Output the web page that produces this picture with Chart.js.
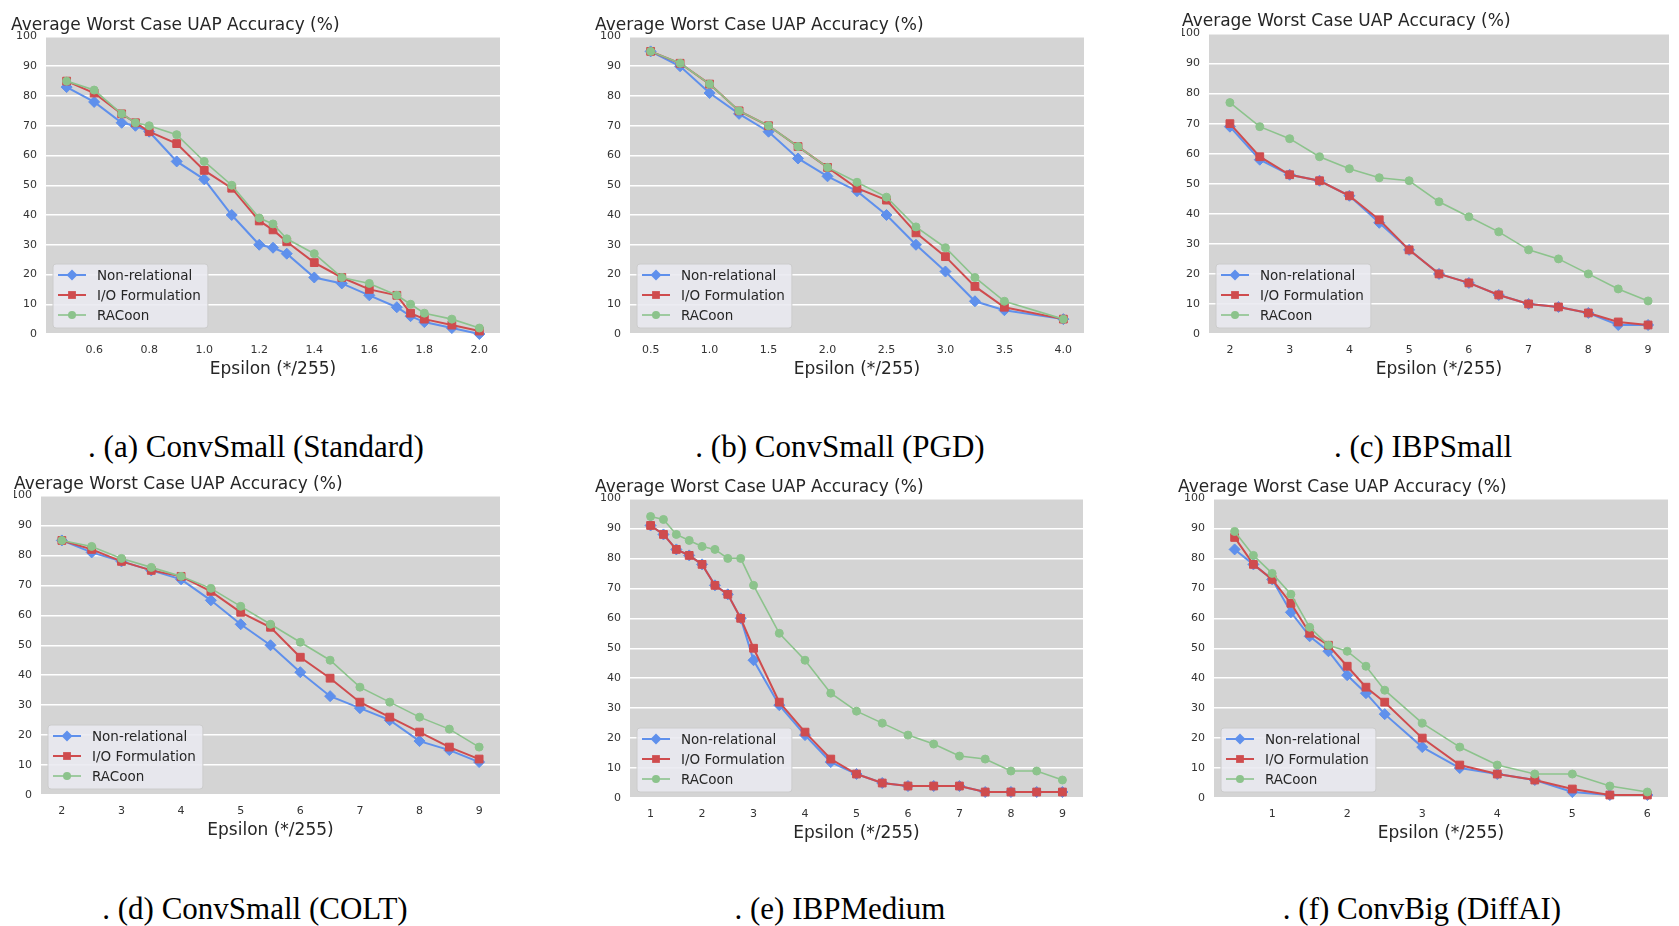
<!DOCTYPE html>
<html lang="en">
<head>
<meta charset="UTF-8">
<title>Average Worst Case UAP Accuracy</title>
<script src="https://cdn.jsdelivr.net/npm/chart.js"></script>
<style>
    body {
        margin: 0;
        background: #fff;
        width: 1679px;
        height: 926px;
        position: relative;
        overflow: hidden;
    }
    canvas { position: absolute; }
    .caption {
        position: absolute;
        font-family: "Liberation Serif", "Times New Roman", serif;
        font-size: 31px;
        color: #000;
        white-space: nowrap;
        transform: translate(-50%, -50%);
    }
</style>
</head>
<body>
<script>
// series names, one entry per line in every panel
const seriesNames = ['Non-relational', 'I/O Formulation', 'RACoon'];

// (a) ConvSmall (Standard)
const epsA = [0.5, 0.6, 0.7, 0.75, 0.8, 0.9, 1.0, 1.1, 1.2, 1.25, 1.3, 1.4, 1.5, 1.6, 1.7, 1.75, 1.8, 1.9, 2.0];
const nonRelA = [83, 78, 71, 70, 68, 58, 52, 40, 30, 29, 27, 19, 17, 13, 9, 6, 4, 2, 0];
const ioA = [85, 81, 74, 71, 68, 64, 55, 49, 38, 35, 31, 24, 19, 15, 13, 7, 5, 3, 1];
const racoonA = [85, 82, 74, 71, 70, 67, 58, 50, 39, 37, 32, 27, 19, 17, 13, 10, 7, 5, 2];
const ticksA = [0.6, 0.8, 1.0, 1.2, 1.4, 1.6, 1.8, 2.0];

// (b) ConvSmall (PGD)
const epsB = [0.5, 0.75, 1.0, 1.25, 1.5, 1.75, 2.0, 2.25, 2.5, 2.75, 3.0, 3.25, 3.5, 4.0];
const nonRelB = [95, 90, 81, 74, 68, 59, 53, 48, 40, 30, 21, 11, 8, 5];
const ioB = [95, 91, 84, 75, 70, 63, 56, 49, 45, 34, 26, 16, 9, 5];
const racoonB = [95, 91, 84, 75, 70, 63, 56, 51, 46, 36, 29, 19, 11, 5];
const ticksB = [0.5, 1.0, 1.5, 2.0, 2.5, 3.0, 3.5, 4.0];

// (c) IBPSmall
const epsC = [2, 2.5, 3, 3.5, 4, 4.5, 5, 5.5, 6, 6.5, 7, 7.5, 8, 8.5, 9];
const nonRelC = [69, 58, 53, 51, 46, 37, 28, 20, 17, 13, 10, 9, 7, 3, 3];
const ioC = [70, 59, 53, 51, 46, 38, 28, 20, 17, 13, 10, 9, 7, 4, 3];
const racoonC = [77, 69, 65, 59, 55, 52, 51, 44, 39, 34, 28, 25, 20, 15, 11];
const ticksC = [2, 3, 4, 5, 6, 7, 8, 9];

// (d) ConvSmall (COLT)
const epsD = [2, 2.5, 3, 3.5, 4, 4.5, 5, 5.5, 6, 6.5, 7, 7.5, 8, 8.5, 9];
const nonRelD = [85, 81, 78, 75, 72, 65, 57, 50, 41, 33, 29, 25, 18, 15, 11];
const ioD = [85, 82, 78, 75, 73, 68, 61, 56, 46, 39, 31, 26, 21, 16, 12];
const racoonD = [85, 83, 79, 76, 73, 69, 63, 57, 51, 45, 36, 31, 26, 22, 16];
const ticksD = [2, 3, 4, 5, 6, 7, 8, 9];

// (e) IBPMedium
const epsE = [1, 1.25, 1.5, 1.75, 2, 2.25, 2.5, 2.75, 3, 3.5, 4, 4.5, 5, 5.5, 6, 6.5, 7, 7.5, 8, 8.5, 9];
const nonRelE = [91, 88, 83, 81, 78, 71, 68, 60, 46, 31, 21, 12, 8, 5, 4, 4, 4, 2, 2, 2, 2];
const ioE = [91, 88, 83, 81, 78, 71, 68, 60, 50, 32, 22, 13, 8, 5, 4, 4, 4, 2, 2, 2, 2];
const racoonE = [94, 93, 88, 86, 84, 83, 80, 80, 71, 55, 46, 35, 29, 25, 21, 18, 14, 13, 9, 9, 6];
const ticksE = [1, 2, 3, 4, 5, 6, 7, 8, 9];

// (f) ConvBig (DiffAI)
const epsF = [0.5, 0.75, 1, 1.25, 1.5, 1.75, 2, 2.25, 2.5, 3, 3.5, 4, 4.5, 5, 5.5, 6];
const nonRelF = [83, 78, 73, 62, 54, 49, 41, 35, 28, 17, 10, 8, 6, 2, 1, 1];
const ioF = [87, 78, 73, 65, 55, 51, 44, 37, 32, 20, 11, 8, 6, 3, 1, 1];
const racoonF = [89, 81, 75, 68, 57, 51, 49, 44, 36, 25, 17, 11, 8, 8, 4, 2];
const ticksF = [1, 2, 3, 4, 5, 6];

const yTicks = [0, 10, 20, 30, 40, 50, 60, 70, 80, 90, 100];

// look of the three lines
const seriesColors = ['#5f90ec', '#cf4c4e', '#8cc38c'];
const seriesMarkers = ['rectRot', 'rect', 'circle'];
const markerSize = [5.5, 5.5, 4];
const lineWidths = [2, 2, 1.6];

const FONT = 'DejaVu Sans';
const TEXT = '#262626';
const TICK = '#333333';

// page placement of each panel (plot box L/R/T/B, title anchor, caption centre)
const panels = [
    {eps: epsA, s: [nonRelA, ioA, racoonA], ticks: ticksA, dec: 1, titleX: 11, titleY: 23, L: 46, R: 500, T: 36, B: 334,
     caption: '. (a) ConvSmall (Standard)', capX: 256, capY: 447},
    {eps: epsB, s: [nonRelB, ioB, racoonB], ticks: ticksB, dec: 1, titleX: 595, titleY: 23, L: 630, R: 1084, T: 36, B: 334,
     caption: '. (b) ConvSmall (PGD)', capX: 840, capY: 447},
    {eps: epsC, s: [nonRelC, ioC, racoonC], ticks: ticksC, dec: 0, titleX: 1182, titleY: 19, L: 1209, R: 1669, T: 33, B: 334,
     caption: '. (c) IBPSmall', capX: 1423, capY: 447},
    {eps: epsD, s: [nonRelD, ioD, racoonD], ticks: ticksD, dec: 0, titleX: 14, titleY: 482, L: 41, R: 500, T: 495, B: 795,
     caption: '. (d) ConvSmall (COLT)', capX: 255, capY: 909},
    {eps: epsE, s: [nonRelE, ioE, racoonE], ticks: ticksE, dec: 0, titleX: 595, titleY: 485, L: 630, R: 1083, T: 498, B: 798,
     caption: '. (e) IBPMedium', capX: 840, capY: 909},
    {eps: epsF, s: [nonRelF, ioF, racoonF], ticks: ticksF, dec: 0, titleX: 1178, titleY: 485, L: 1214, R: 1668, T: 498, B: 798,
     caption: '. (f) ConvBig (DiffAI)', capX: 1422, capY: 909}
];

// grey plot background
const plotBg = {
    id: 'plotBg',
    beforeDraw(chart) {
        const a = chart.chartArea, ctx = chart.ctx;
        ctx.save();
        ctx.fillStyle = '#d4d4d4';
        ctx.fillRect(a.left, a.top, a.right - a.left, a.bottom - a.top);
        ctx.restore();
    }
};

function marker(ctx, style, r, x, y) {
    ctx.beginPath();
    if (style === 'rectRot') {
        ctx.moveTo(x, y - r); ctx.lineTo(x + r, y); ctx.lineTo(x, y + r); ctx.lineTo(x - r, y);
        ctx.closePath();
    } else if (style === 'rect') {
        const h = r * Math.SQRT1_2;
        ctx.rect(x - h, y - h, 2 * h, 2 * h);
    } else {
        ctx.arc(x, y, r, 0, Math.PI * 2);
    }
    ctx.fill();
}

// legend box in the lower left corner of the plot
const cornerLegend = {
    id: 'cornerLegend',
    afterDatasetsDraw(chart) {
        const a = chart.chartArea, ctx = chart.ctx;
        ctx.save();
        ctx.font = '13.5px "' + FONT + '"';
        const tw = Math.max(...seriesNames.map(n => ctx.measureText(n).width));
        const w = 44 + tw + 7, h = 64;
        const x = a.left + 7, y = a.bottom - 6 - h;
        ctx.beginPath();
        ctx.roundRect(x, y, w, h, 3);
        ctx.fillStyle = 'rgba(233, 233, 240, 0.88)';
        ctx.fill();
        ctx.strokeStyle = '#cccccc';
        ctx.lineWidth = 1;
        ctx.stroke();
        seriesNames.forEach((name, i) => {
            const ry = y + 11 + i * 20;
            ctx.strokeStyle = seriesColors[i];
            ctx.lineWidth = lineWidths[i];
            ctx.beginPath();
            ctx.moveTo(x + 5, ry);
            ctx.lineTo(x + 33, ry);
            ctx.stroke();
            ctx.fillStyle = seriesColors[i];
            marker(ctx, seriesMarkers[i], markerSize[i], x + 19, ry);
            ctx.fillStyle = TEXT;
            ctx.textBaseline = 'middle';
            ctx.textAlign = 'left';
            ctx.fillText(name, x + 44, ry + 1);
        });
        ctx.restore();
    }
};

panels.forEach(p => {
    const cLeft = p.titleX - 10;
    const cTop = p.titleY - 7.5;
    const width = p.R - cLeft + 12;
    const height = p.B - cTop + 46;
    const cv = document.createElement('canvas');
    cv.width = width;
    cv.height = height;
    cv.style.left = cLeft + 'px';
    cv.style.top = cTop + 'px';
    cv.style.width = width + 'px';
    cv.style.height = height + 'px';
    document.body.appendChild(cv);

    const cap = document.createElement('div');
    cap.className = 'caption';
    cap.textContent = p.caption;
    cap.style.left = p.capX + 'px';
    cap.style.top = p.capY + 'px';
    document.body.appendChild(cap);

    // matplotlib style 5% margins on the x range
    const lo = Math.min(...p.eps), hi = Math.max(...p.eps);
    const pad = (hi - lo) * 0.05;

    new Chart(cv.getContext('2d'), {
        type: 'line',
        data: {
            datasets: p.s.map((vals, i) => ({
                label: seriesNames[i],
                data: vals.map((v, j) => ({x: p.eps[j], y: v})),
                borderColor: seriesColors[i],
                backgroundColor: seriesColors[i],
                borderWidth: lineWidths[i],
                pointStyle: seriesMarkers[i],
                pointRadius: markerSize[i],
                pointHoverRadius: markerSize[i],
                pointBorderWidth: 1,
                tension: 0,
                order: 2 - i,
                clip: false
            }))
        },
        options: {
            responsive: false,
            animation: false,
            events: [],
            layout: {padding: {left: 10, right: 12, top: 0, bottom: 0}},
            plugins: {
                legend: {display: false},
                tooltip: {enabled: false},
                title: {
                    display: true,
                    text: 'Average Worst Case UAP Accuracy (%)',
                    align: 'start',
                    color: TEXT,
                    font: {family: FONT, size: 17, weight: 'normal', lineHeight: 20 / 17},
                    padding: {top: 0, bottom: p.T - cTop - 20}
                }
            },
            scales: {
                x: {
                    type: 'linear',
                    min: lo - pad,
                    max: hi + pad,
                    afterBuildTicks: s => { s.ticks = p.ticks.map(v => ({value: v})); },
                    afterFit: s => { s.height = 46; },
                    ticks: {
                        callback: v => Number(v).toFixed(p.dec),
                        color: TICK,
                        font: {family: FONT, size: 11},
                        padding: 9.5,
                        maxRotation: 0,
                        autoSkip: false
                    },
                    grid: {display: false, drawTicks: false},
                    border: {display: false},
                    title: {
                        display: true,
                        text: 'Epsilon (*/255)',
                        color: TEXT,
                        font: {family: FONT, size: 17},
                        padding: {top: 0, bottom: 0.5}
                    }
                },
                y: {
                    min: 0,
                    max: 100,
                    afterBuildTicks: s => { s.ticks = yTicks.map(v => ({value: v})); },
                    afterFit: s => { s.width = p.L - p.titleX; },
                    ticks: {
                        color: TICK,
                        font: {family: FONT, size: 11},
                        padding: 9
                    },
                    grid: {color: '#ffffff', lineWidth: 1.5, drawTicks: false},
                    border: {display: false}
                }
            }
        },
        plugins: [plotBg, cornerLegend]
    });
});
</script>
</body>
</html>
